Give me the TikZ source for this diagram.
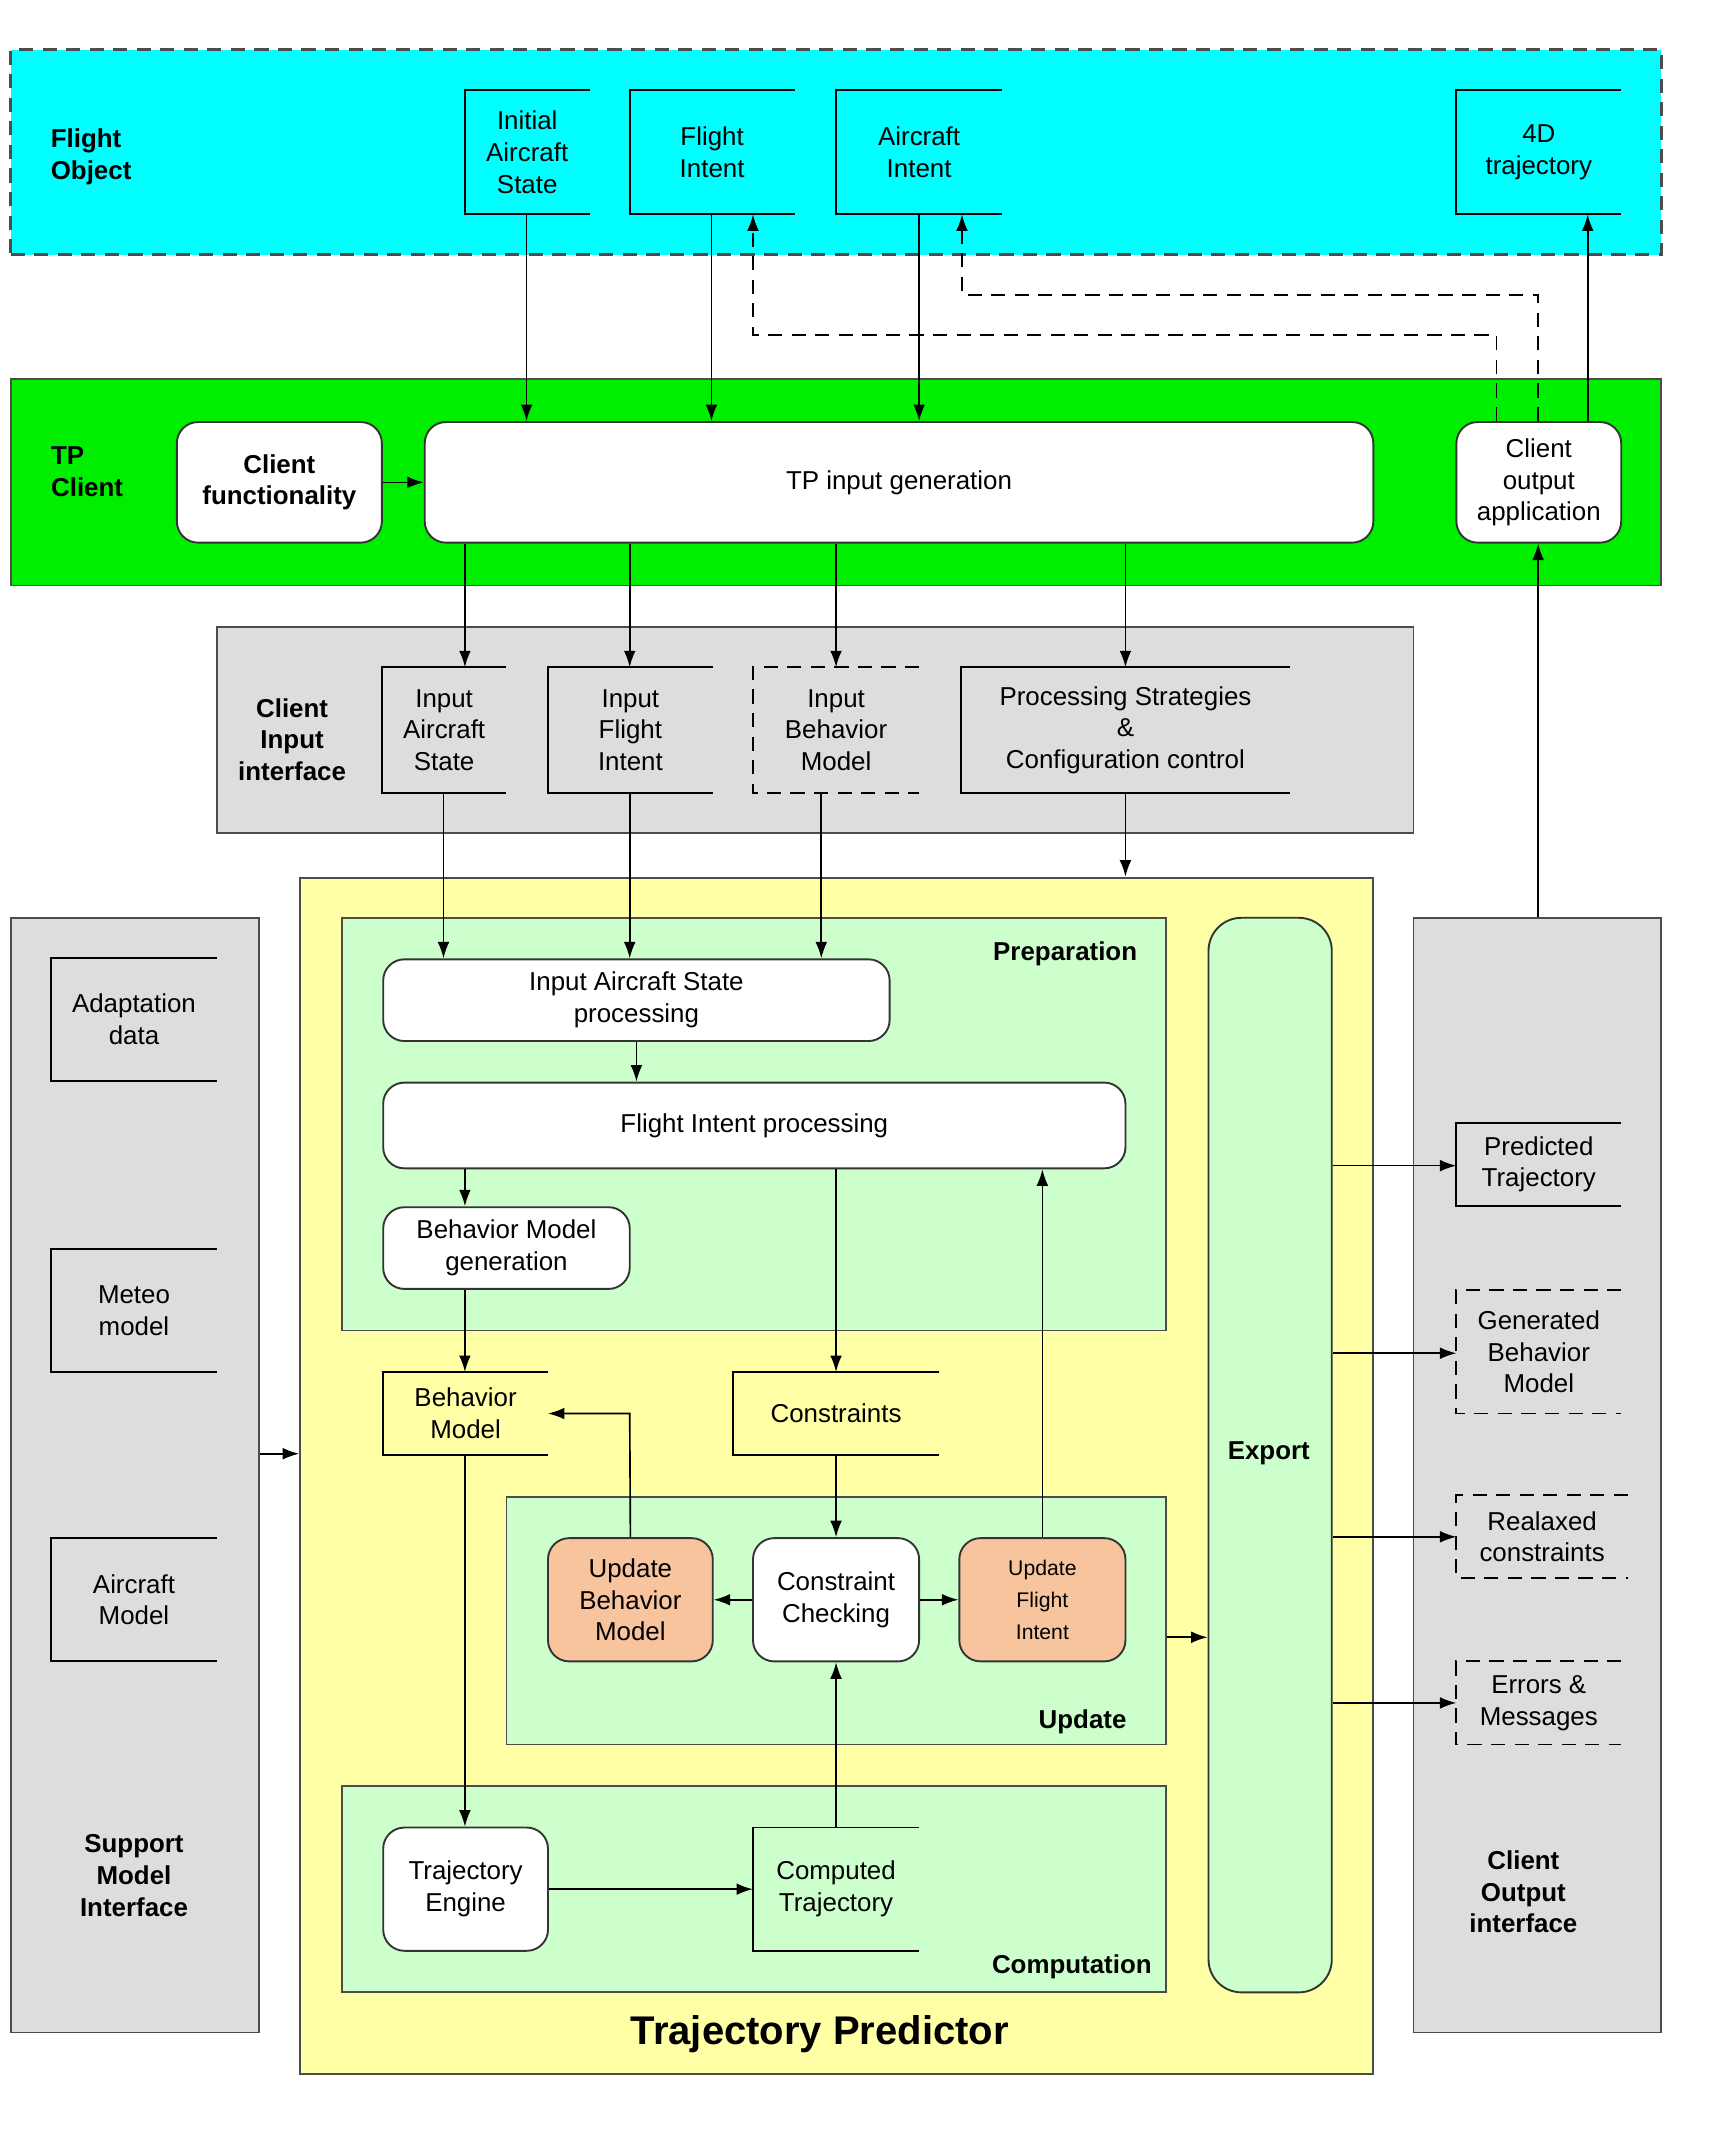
\documentclass[tikz,border=0pt]{standalone}
\usepackage{fontspec}
\setmainfont{Liberation Sans}
\usetikzlibrary{arrows.meta,fit}
\definecolor{fcyan}{HTML}{00FFFF}
\definecolor{fgreen}{HTML}{00EE00}
\definecolor{fgrey}{HTML}{DDDDDD}
\definecolor{fyellow}{HTML}{FFFFA6}
\definecolor{lgreen}{HTML}{CCFFCC}
\definecolor{forange}{HTML}{F8C49E}
\tikzset{
  every node/.style={font=\fontsize{11}{13.5}\selectfont, align=center, inner sep=0pt},
  band/.style={draw=black!70, line width=0.8pt},
  rbox/.style={draw=black!80, fill=white, rounded corners=9pt, line width=0.8pt},
  lbl/.style={font=\fontsize{11}{13.5}\selectfont\bfseries},
  ldash/.style={dash pattern=on 6pt off 4pt},
  edge/.style={-{Latex[length=7pt,width=5pt]}, line width=0.7pt},
  dedge/.style={edge, ldash},
}
\newcommand\rect[7]{\node[#1, fit={(#3,#4)(#5,#6)}] (#2) {};\node at (#2.center) {#7};}
% open store box: left, top and bottom lines
\newcommand\store[7][]{\coordinate (#2-nw) at (#3,#4); \coordinate (#2-se) at (#5,#6);
  \node (#2) at ({(#3+#5)/2},{(#4+#6)/2}) {#7};
  \draw[line width=0.8pt,#1] (#5,#4) -- (#3,#4) -- (#3,#6) -- (#5,#6);}
\begin{document}
\begin{tikzpicture}[x=0.02cm,y=-0.02cm]
\useasboundingbox (0,0) rectangle (1280,1592);
% bands
\rect{band, fill=fcyan, ldash, line width=1.4pt}{fo}{8}{37}{1240}{190}{}
\node[lbl, align=left] (fol) at (68,117) {Flight\\Object};
\rect{band, fill=fgreen}{tpc}{8}{283}{1240}{437}{}
\node[lbl, align=left] (tpl) at (65,352) {TP\\Client};
\rect{band, fill=fgrey}{cii}{162}{468}{1055}{622}{}
\node[lbl] (ciil) at (218,552) {Client\\Input\\interface};
\rect{band, fill=fgrey}{smi}{8}{685}{193}{1517}{}
\node[lbl] (smil) at (100,1400) {Support\\Model\\Interface};
\rect{band, fill=fgrey}{coi}{1055}{685}{1240}{1517}{}
\node[lbl] (coil) at (1137,1412) {Client\\Output\\interface};
\rect{band, fill=fyellow}{tp}{224}{655}{1025}{1548}{}
\node[font=\fontsize{17}{20}\selectfont\bfseries] (tpt) at (612,1518) {Trajectory Predictor};
\rect{band, fill=lgreen}{prep}{255}{685}{870}{993}{}
\node[lbl] (prepl) at (795,712) {Preparation};
\rect{band, fill=lgreen}{upd}{378}{1117}{870}{1302}{}
\node[lbl] (updl) at (808,1285) {Update};
\rect{band, fill=lgreen}{comp}{255}{1333}{870}{1487}{}
\node[lbl] (compl) at (800,1468) {Computation};
\rect{rbox, fill=lgreen, rounded corners=14pt}{exp}{902}{685}{994}{1487}{}
\node[lbl] (expl) at (947,1085) {Export};
% flight object stores
\store{ias}{347}{67}{440}{160}{Initial\\Aircraft\\State}
\store{fi}{470}{67}{593}{160}{Flight\\Intent}
\store{ai}{624}{67}{748}{160}{Aircraft\\Intent}
\store{fd}{1087}{67}{1210}{160}{4D\\trajectory}
% TP client
\rect{rbox}{cf}{132}{315}{285}{405}{\bfseries Client\\\bfseries functionality}
\rect{rbox}{tig}{317}{315}{1025}{405}{TP input generation}
\rect{rbox}{coa}{1087}{315}{1210}{405}{Client\\output\\application}
% client input
\store{iasi}{285}{498}{378}{592}{Input\\Aircraft\\State}
\store{ifi}{409}{498}{532}{592}{Input\\Flight\\Intent}
\store[ldash]{ibm}{562}{498}{686}{592}{Input\\Behavior\\Model}
\store{psc}{717}{498}{963}{592}{Processing Strategies\\\&\\Configuration control}
% support
\store{ad}{38}{715}{162}{807}{Adaptation\\data}
\store{mm}{38}{932}{162}{1024}{Meteo\\model}
\store{am}{38}{1148}{162}{1240}{Aircraft\\Model}
% client output
\store{pt}{1087}{838}{1210}{900}{Predicted\\Trajectory}
\store[ldash]{gbm}{1087}{963}{1210}{1055}{Generated\\Behavior\\Model}
\store[ldash]{rc}{1087}{1116}{1215}{1178}{Realaxed\\constraints}
\store[ldash]{em}{1087}{1240}{1210}{1302}{Errors \&\\Messages}
% predictor inside
\rect{rbox}{iasp}{286}{716}{664}{777}{Input Aircraft State\\processing}
\rect{rbox}{fip}{286}{808}{840}{872}{Flight Intent processing}
\rect{rbox}{bmg}{286}{901}{470}{962}{Behavior Model\\generation}
\store{bm}{286}{1024}{409}{1086}{Behavior\\Model}
\store{con}{547}{1024}{701}{1086}{Constraints}
\rect{rbox, fill=forange}{ubm}{409}{1148}{532}{1240}{Update\\Behavior\\Model}
\rect{rbox}{cc}{562}{1148}{686}{1240}{Constraint\\Checking}
\rect{rbox, fill=forange}{ufi}{716}{1148}{840}{1240}{\small Update\\\small Flight\\\small Intent}
\rect{rbox}{te}{286}{1364}{409}{1456}{Trajectory\\Engine}
\store{ct}{562}{1364}{686}{1456}{Computed\\Trajectory}
% connectors
\draw[edge] (ias-se -| 393,0) -- (tig.north -| 393,0);
\draw[edge] (fi-se -| 531,0) -- (tig.north -| 531,0);
\draw[edge] (ai-se -| 686,0) -- (tig.north -| 686,0);
\draw[edge] (coa.north -| 1185,0) -- (fd-se -| 1185,0);
\draw[dedge] (coa.north -| 1117,0) -- (1117,250) -- (562,250) -- (fi-se -| 562,0);
\draw[dedge] (coa.north -| 1148,0) -- (1148,220) -- (718,220) -- (ai-se -| 718,0);
\draw[edge] (cf) -- (tig);
\draw[edge] (tig.south -| 347,0) -- (iasi-nw -| 347,0);
\draw[edge] (tig.south -| 470,0) -- (ifi-nw -| 470,0);
\draw[edge] (tig.south -| 624,0) -- (ibm-nw -| 624,0);
\draw[edge] (tig.south -| 840,0) -- (psc-nw -| 840,0);
\draw[edge] (iasi-se -| 331,0) -- (iasp.north -| 331,0);
\draw[edge] (ifi-se -| 470,0) -- (iasp.north -| 470,0);
\draw[edge] (ibm-se -| 613,0) -- (iasp.north -| 613,0);
\draw[edge] (psc-se -| 840,0) -- (tp.north -| 840,0);
\draw[edge] (coi.north -| 1148,0) -- (coa.south -| 1148,0);
\draw[edge] (smi.east |- 0,1085) -- (tp.west |- 0,1085);
\draw[edge] (exp.east |- 0,870) -- (pt-nw |- 0,870);
\draw[edge] (exp.east |- 0,1010) -- (gbm-nw |- 0,1010);
\draw[edge] (exp.east |- 0,1147) -- (rc-nw |- 0,1147);
\draw[edge] (exp.east |- 0,1271) -- (em-nw |- 0,1271);
\draw[edge] (upd.east |- 0,1222) -- (exp.west |- 0,1222);
\draw[edge] (iasp.south -| 475,0) -- (fip.north -| 475,0);
\draw[edge] (fip.south -| 347,0) -- (bmg.north -| 347,0);
\draw[edge] (fip.south -| 624,0) -- (con-nw -| 624,0);
\draw[edge] (bmg.south -| 347,0) -- (bm-nw -| 347,0);
\draw[edge] (bm-se -| 347,0) -- (te.north -| 347,0);
\draw[edge] (con-se -| 624,0) -- (cc.north);
\draw[edge] (cc) -- (ubm);
\draw[edge] (cc) -- (ufi);
\draw[edge] (ubm.north) -- (470,1055) -- (bm-se |- 0,1055);
\draw[edge] (ufi.north -| 778,0) -- (fip.south -| 778,0);
\draw[edge] (te.east |- 0,1410) -- (ct-nw |- 0,1410);
\draw[edge] (ct-nw -| 624,0) -- (cc.south);
\end{tikzpicture}
\end{document}
